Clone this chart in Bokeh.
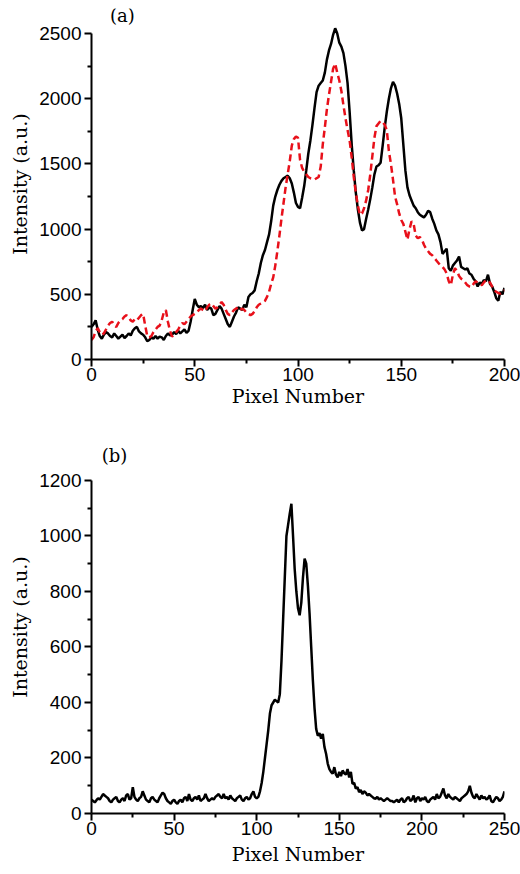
from bokeh.plotting import figure
from bokeh.layouts import column
from bokeh.models import FixedTicker, Label, Range1d
from bokeh.embed import file_html
from bokeh.resources import INLINE

# ---------------- data: panel (a) ----------------
pixel_a = list(range(0, 201))
black_a = [
    250, 270, 300, 230, 180, 160, 190, 210, 200, 180,
    170, 200, 180, 160, 175, 190, 165, 180, 200, 185,
    220, 240, 250, 215, 200, 190, 170, 140, 150, 170,
    160, 180, 160, 175, 170, 150, 180, 200, 185, 190,
    210, 195, 220, 200, 215, 230, 205, 220, 290, 380,
    465, 420, 400, 410, 395, 420, 380, 400, 390, 340,
    350, 380, 410, 390, 350, 310, 270, 250, 290, 330,
    360, 400, 390, 380, 420, 400, 480, 500, 510, 530,
    600, 660, 740, 800, 840, 900, 960, 1060, 1180, 1250,
    1300, 1340, 1370, 1390, 1400, 1410, 1390, 1350, 1280, 1200,
    1170, 1160, 1240, 1330, 1450, 1580, 1680, 1800, 1930, 2050,
    2100, 2120, 2140, 2200, 2300, 2370, 2420, 2490, 2540, 2500,
    2430, 2400, 2350, 2250, 2120, 1900, 1650, 1450, 1280, 1150,
    1050, 990, 1000, 1080, 1150, 1230, 1320, 1420, 1480, 1490,
    1510, 1640, 1780, 1900, 2000, 2080, 2130, 2100, 2040, 1960,
    1850, 1650, 1450, 1320, 1260, 1220, 1180, 1160, 1130, 1110,
    1100, 1090, 1110, 1140, 1130, 1080, 1040, 990, 960, 900,
    810, 830, 850, 700, 680, 720, 740, 760, 790, 710,
    700, 690, 700, 660, 650, 620, 600, 560, 590, 580,
    610, 600, 650, 580, 560, 520, 470, 450, 520, 500,
    550,
]
red_a = [
    150, 170, 220, 240, 210, 190, 200, 230, 260, 280,
    290, 260, 250, 280, 300, 310, 330, 340, 320, 300,
    290, 310, 300, 320, 340, 350, 260, 180, 170, 180,
    210, 230, 250, 260, 300, 360, 380, 290, 220, 175,
    190, 210, 230, 260, 280, 270, 290, 310, 330, 340,
    350, 360, 380, 390, 380, 370, 400, 420, 430, 410,
    390, 400, 420, 440, 420, 380, 350, 340, 360, 380,
    390, 400, 380, 390, 380, 360, 350, 340, 350, 370,
    400, 420, 430, 440, 450, 480, 520, 580, 630, 720,
    830, 950, 1080, 1200, 1320, 1420, 1520, 1640, 1690, 1710,
    1700, 1530, 1470, 1440, 1420, 1400, 1390, 1385, 1380, 1390,
    1400, 1480, 1650, 1780, 1920, 2030, 2130, 2230, 2270, 2200,
    2140, 2060, 1950, 1850, 1760, 1680, 1550, 1400, 1280, 1180,
    1110, 1120, 1160, 1220, 1300, 1420, 1560, 1700, 1790, 1810,
    1830, 1820, 1800, 1760, 1600, 1500, 1380, 1250, 1190, 1120,
    1070, 1040, 980, 920, 1000, 1060, 1040, 950, 930, 940,
    920, 880, 850, 830, 810, 800, 780, 760, 740, 720,
    710, 690, 660, 600, 570, 650, 700, 680, 640, 620,
    610, 590, 570, 560, 555, 580, 600, 590, 580, 570,
    590, 610, 600, 590, 560, 530, 520, 510, 505, 520,
    530,
]

# ---------------- data: panel (b) ----------------
pixel_b = list(range(0, 251))
black_b = [
    50, 45, 40, 48, 55, 50, 60, 70, 65, 60,
    55, 45, 40, 50, 55, 60, 45, 40, 50, 55,
    45, 65, 70, 50, 55, 95, 60, 50, 45, 55,
    60, 80, 65, 50, 45, 40, 55, 60, 50, 45,
    40, 55, 65, 75, 70, 55, 45, 40, 35, 45,
    50, 40, 35, 45, 50, 40, 55, 60, 45, 70,
    50, 45, 55, 60, 50, 65, 45, 50, 55, 70,
    55, 45, 50, 55, 50, 60, 65, 70, 60, 55,
    70, 55, 60, 50, 65, 55, 50, 45, 55, 60,
    65, 50, 45, 55, 60, 50, 55, 70, 80, 60,
    55, 60, 80, 110, 150, 200, 250, 300, 360, 390,
    400, 410, 405, 400, 430, 550, 700, 850, 1000, 1040,
    1080, 1116, 1000, 880, 800, 740, 714, 760, 850, 918,
    900, 820, 720, 600, 480, 380, 305, 280, 290, 270,
    287, 240, 215, 180, 160, 150, 143, 167, 140, 130,
    150, 135, 155, 145, 140, 160, 130, 150, 107, 110,
    90, 95, 77, 85, 70, 80, 75, 65, 70, 65,
    60, 55, 53, 60, 50, 55, 50, 45, 50, 55,
    50, 45, 45, 40, 45, 50, 40, 50, 55, 40,
    45, 55, 60, 45, 50, 65, 40, 55, 60, 45,
    55, 50, 60, 45, 40, 50, 55, 60, 50, 70,
    55, 60, 75, 90, 65, 55, 70, 60, 55, 50,
    60, 55, 50, 45, 55, 60, 65, 70, 80, 100,
    75, 60, 55, 70, 60, 50, 65, 55, 60, 50,
    55, 65, 45, 40, 50, 60, 55, 45, 50, 60,
    80,
]

# ticks
x_major_a = [0, 50, 100, 150, 200]
x_minor_a = [25, 75, 125, 175]
y_major_a = [0, 500, 1000, 1500, 2000, 2500]
y_minor_a = [250, 750, 1250, 1750, 2250]
x_major_b = [0, 50, 100, 150, 200, 250]
x_minor_b = [25, 75, 125, 175, 225]
y_major_b = [0, 200, 400, 600, 800, 1000, 1200]
y_minor_b = [100, 300, 500, 700, 900, 1100]

x_title = "Pixel Number"
y_title = "Intensity (a.u.)"

SERIF = "DejaVu Serif"
SANS = "Liberation Sans"


def style(p, xmaj, xmin, ymaj, ymin, ybounds, xlabel_standoff):
    p.outline_line_color = None
    p.xgrid.grid_line_color = None
    p.ygrid.grid_line_color = None
    p.xaxis.ticker = FixedTicker(ticks=xmaj, minor_ticks=xmin)
    p.yaxis.ticker = FixedTicker(ticks=ymaj, minor_ticks=ymin)
    p.yaxis.bounds = ybounds
    for ax in (p.xaxis[0], p.yaxis[0]):
        ax.axis_line_width = 2
        ax.axis_line_color = "black"
        ax.major_tick_line_width = 2
        ax.minor_tick_line_width = 2
        ax.major_tick_line_color = "black"
        ax.minor_tick_line_color = "black"
        ax.major_tick_in = 0
        ax.major_tick_out = 7
        ax.minor_tick_in = 0
        ax.minor_tick_out = 4
        ax.major_label_text_font = SANS
        ax.major_label_text_font_size = "19px"
        ax.major_label_text_color = "black"
        ax.axis_label_text_font = SERIF
        ax.axis_label_text_font_size = "19px"
        ax.axis_label_text_font_style = "normal"
        ax.axis_label_text_color = "black"
    p.xaxis.major_label_standoff = 1
    p.yaxis.major_label_standoff = 3
    p.xaxis.axis_label_standoff = xlabel_standoff
    p.yaxis.axis_label_standoff = 5
    p.xaxis.axis_label = x_title
    p.yaxis.axis_label = y_title


# ---------------- panel (a) ----------------
pa = figure(
    frame_width=413, frame_height=351,
    min_border_left=90, min_border_right=17,
    min_border_top=8, min_border_bottom=54,
    x_range=Range1d(0, 200), y_range=Range1d(0, 2692),
    output_backend="svg", toolbar_location=None,
)
pa.line(pixel_a, black_a, line_color="black", line_width=2.5)
pa.line(pixel_a, red_a, line_color="#e8101a", line_width=2.5, line_dash="7 4")
style(pa, x_major_a, x_minor_a, y_major_a, y_minor_a, (0, 2500), 1)
pa.add_layout(Label(x=15, y=2640, text="(a)", text_align="center",
                    text_baseline="middle", text_font=SERIF,
                    text_font_size="18px", text_color="black"))

# ---------------- panel (b) ----------------
pb = figure(
    frame_width=413, frame_height=373,
    min_border_left=91, min_border_right=16,
    min_border_top=27, min_border_bottom=58,
    x_range=Range1d(0, 250), y_range=Range1d(0, 1344),
    output_backend="svg", toolbar_location=None,
)
pb.line(pixel_b, black_b, line_color="black", line_width=2.5)
style(pb, x_major_b, x_minor_b, y_major_b, y_minor_b, (0, 1200), 5)
pb.add_layout(Label(x=13.9, y=1290, text="(b)", text_align="center",
                    text_baseline="middle", text_font=SERIF,
                    text_font_size="18px", text_color="black"))

layout = column(pa, pb)
open("out.html", "w").write(file_html(layout, INLINE))
